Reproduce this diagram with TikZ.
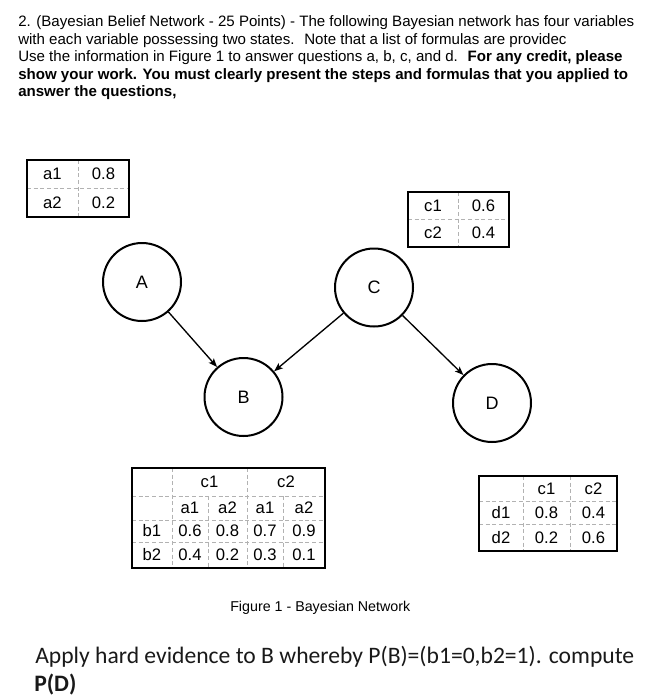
\documentclass[tikz,border=0pt]{standalone}
\usepackage{fontspec}
\setmainfont{Liberation Sans}
\newfontfamily\calibrifont{Carlito}
\usetikzlibrary{arrows.meta}
\tikzset{
  bnode/.style={circle, draw, line width=1.5pt, minimum size=58.5pt, inner sep=0pt, font=\fontsize{13.5}{15}\selectfont},
  edge/.style={line width=1pt, -{Stealth[length=6.5pt,width=5pt,inset=1.5pt]}},
  cell/.style={inner sep=0pt, font=\fontsize{12.5}{14}\selectfont},
  tabbox/.style={line width=0.9pt},
  tabline/.style={densely dashed, gray!60, line width=0.5pt},
  para/.style={anchor=base west, inner sep=0pt, font=\fontsize{11.3}{13}\selectfont},
}
\begin{document}
\begin{tikzpicture}[x=0.75pt, y=-0.75pt]
\useasboundingbox[fill=white] (0,0) rectangle (669,700);

% paragraph
\node[para] (l1) at (18,26.5) {2. (Bayesian Belief Network - 25 Points) - The following Bayesian network has four variables};
\node[para] (l2) at (18,44) {with each variable possessing two states.~ Note that a list of formulas are providec};
\node[para] (l3) at (18,61.5) {Use the information in Figure 1 to answer questions a, b, c, and d.~ \textbf{For any credit, please}};
\node[para] (l4) at (18,79) {\textbf{show your work. You must clearly present the steps and formulas that you applied to}};
\node[para] (l5) at (18,96) {\textbf{answer the questions,}};

% table A
\draw[tabline] (78,160) -- (78,217);
\draw[tabline] (27,188) -- (129,188);
\draw[tabbox] (27,160) rectangle (129,217);
\node[cell] (ta1) at (52.5,174) {a1};
\node[cell] (ta1v) at (103.5,174) {0.8};
\node[cell] (ta2) at (52.5,202.5) {a2};
\node[cell] (ta2v) at (103.5,202.5) {0.2};

% table C
\draw[tabline] (458,192) -- (458,247);
\draw[tabline] (408,219) -- (509,219);
\draw[tabbox] (408,192) rectangle (509,247);
\node[cell] (tc1) at (433,205.5) {c1};
\node[cell] (tc1v) at (483.5,205.5) {0.6};
\node[cell] (tc2) at (433,233) {c2};
\node[cell] (tc2v) at (483.5,233) {0.4};

% network
\node[bnode] (A) at (142,282) {A};
\node[bnode] (B) at (243.5,397) {B};
\node[bnode] (C) at (374,287.5) {C};
\node[bnode] (D) at (492,403) {D};
\draw[edge] (A) -- (B);
\draw[edge] (C) -- (B);
\draw[edge] (C) -- (D);

% table B
\draw[tabline] (172,468) -- (172,568);
\draw[tabline] (247,468) -- (247,568);
\draw[tabline] (208,496) -- (208,568);
\draw[tabline] (283,496) -- (283,568);
\draw[tabline] (132,496) -- (325,496);
\draw[tabline] (132,520) -- (325,520);
\draw[tabline] (132,542) -- (325,542);
\draw[tabbox] (132,468) rectangle (325,568);
\node[cell] (bc1) at (209.5,482) {c1};
\node[cell] (bc2) at (286,482) {c2};
\node[cell] (ba1) at (190,508) {a1};
\node[cell] (ba2) at (227.5,508) {a2};
\node[cell] (ba3) at (265,508) {a1};
\node[cell] (ba4) at (304,508) {a2};
\node[cell] (bb1) at (152,531) {b1};
\node[cell] (b11) at (190,531) {0.6};
\node[cell] (b12) at (227.5,531) {0.8};
\node[cell] (b13) at (265,531) {0.7};
\node[cell] (b14) at (304,531) {0.9};
\node[cell] (bb2) at (152,555) {b2};
\node[cell] (b21) at (190,555) {0.4};
\node[cell] (b22) at (227.5,555) {0.2};
\node[cell] (b23) at (265,555) {0.3};
\node[cell] (b24) at (304,555) {0.1};

% table D
\draw[tabline] (523,476) -- (523,551);
\draw[tabline] (570,476) -- (570,551);
\draw[tabline] (479,501) -- (617,501);
\draw[tabline] (479,524) -- (617,524);
\draw[tabbox] (479,476) rectangle (617,551);
\node[cell] (dc1) at (546.5,489) {c1};
\node[cell] (dc2) at (593.5,489) {c2};
\node[cell] (dd1) at (501,513) {d1};
\node[cell] (d11) at (546.5,513) {0.8};
\node[cell] (d12) at (593.5,513) {0.4};
\node[cell] (dd2) at (501,537.5) {d2};
\node[cell] (d21) at (546.5,537.5) {0.2};
\node[cell] (d22) at (593.5,537.5) {0.6};

% caption
\node[anchor=base west, inner sep=0pt, font=\fontsize{10.7}{12}\selectfont] (cap) at (230,611) {Figure 1 - Bayesian Network};

% question
\node[anchor=base west, inner sep=0pt, font=\calibrifont\fontsize{17.7}{20}\selectfont, text=black!90] (q1) at (35,663.3) {Apply hard evidence to B whereby P(B)=(b1=0,b2=1). compute};
\node[anchor=base west, inner sep=0pt, font=\calibrifont\bfseries\fontsize{17.7}{20}\selectfont, text=black!90] (q2) at (34,691.7) {P(D)};
\end{tikzpicture}
\end{document}
